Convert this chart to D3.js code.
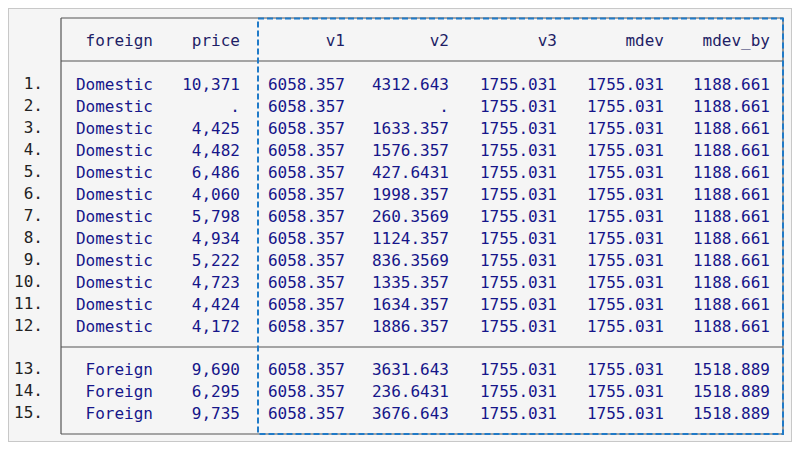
<!DOCTYPE html>
<html><head><meta charset="utf-8">
<script src="https://cdn.jsdelivr.net/npm/d3@7"></script>
<style>body{margin:0;background:#fff}</style>
</head><body>
<svg id="chart" width="800" height="453"></svg>
<script>
var columns = ["foreign", "price", "v1", "v2", "v3", "mdev", "mdev_by"];
var foreign = ["Domestic","Domestic","Domestic","Domestic","Domestic","Domestic","Domestic","Domestic","Domestic","Domestic","Domestic","Domestic","Foreign","Foreign","Foreign"];
var price = ["10,371",".","4,425","4,482","6,486","4,060","5,798","4,934","5,222","4,723","4,424","4,172","9,690","6,295","9,735"];
var v1 = d3.range(15).map(function() { return "6058.357"; });
var v2 = ["4312.643",".","1633.357","1576.357","427.6431","1998.357","260.3569","1124.357","836.3569","1335.357","1634.357","1886.357","3631.643","236.6431","3676.643"];
var v3 = d3.range(15).map(function() { return "1755.031"; });
var mdev = d3.range(15).map(function() { return "1755.031"; });
var mdevBy = ["1188.661","1188.661","1188.661","1188.661","1188.661","1188.661","1188.661","1188.661","1188.661","1188.661","1188.661","1188.661","1518.889","1518.889","1518.889"];

var colData = [foreign, price, v1, v2, v3, mdev, mdevBy];
var colRight = [153, 240, 345, 449, 557, 664, 770];

var svg = d3.select("#chart");
var font = "Consolas, 'DejaVu Sans Mono', monospace";
var fs = 16;

svg.append("rect").attr("x", 8.5).attr("y", 8.5).attr("width", 783).attr("height", 433)
  .attr("fill", "#f5f5f5").attr("stroke", "#c8c8c8");

// row positions: group break after row 12
var y = function(i) { return i < 12 ? 84 + i * 22 : 369 + (i - 12) * 22; };

// table lines
var line = function(x1, y1, x2, y2) {
  svg.append("line").attr("x1", x1).attr("y1", y1).attr("x2", x2).attr("y2", y2)
    .attr("stroke", "#555").attr("stroke-width", 1.2);
};
line(61, 18, 783, 18);
line(61, 18, 61, 434);
line(61, 434, 783, 434);
line(61, 61, 783, 61);
line(61, 347, 783, 347);
line(783, 18, 783, 434);

svg.append("rect").attr("x", 258).attr("y", 18.5).attr("width", 525).attr("height", 415.5)
  .attr("fill", "none").attr("stroke", "#1f7ac8").attr("stroke-width", 2)
  .attr("stroke-dasharray", "6,3");

// header
svg.selectAll(".hdr").data(columns).enter().append("text")
  .attr("x", function(d, i) { return colRight[i]; })
  .attr("y", 46).attr("text-anchor", "end")
  .attr("font-family", font).attr("font-size", fs).attr("fill", "#1e1e66")
  .text(function(d) { return d; });

// row numbers
svg.selectAll(".rn").data(d3.range(15)).enter().append("text")
  .attr("x", 43).attr("y", function(d) { return y(d) + 5; })
  .attr("text-anchor", "end").attr("font-family", font).attr("font-size", fs)
  .attr("fill", "#222").text(function(d) { return (d + 1) + "."; });

// cells
colData.forEach(function(col, c) {
  svg.append("g").selectAll("text").data(col).enter().append("text")
    .attr("x", colRight[c]).attr("y", function(d, i) { return y(i) + 5.5; })
    .attr("text-anchor", "end").attr("font-family", font).attr("font-size", fs)
    .attr("fill", "#16168a").text(function(d) { return d; });
});
</script>
</body></html>
